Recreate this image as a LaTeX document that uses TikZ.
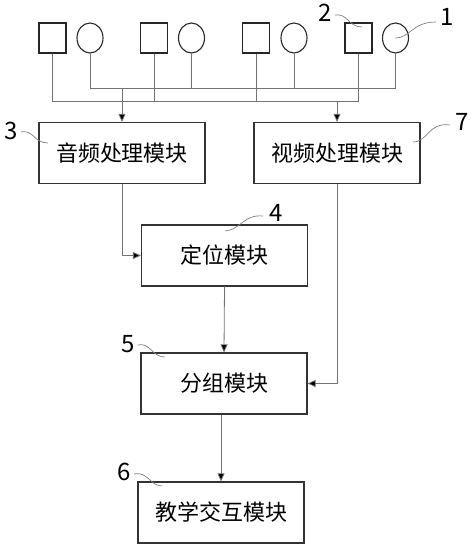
\documentclass[tikz,border=0pt]{standalone}
\usepackage{fontspec}
\setmainfont{Noto Sans CJK SC}
\usepackage{tikz}
\usetikzlibrary{shapes.geometric, arrows.meta}

\begin{document}
\begin{tikzpicture}[
                x=1pt, y=-1pt, % one unit per pixel, y downwards
                module/.style={rectangle, draw=black!80, line width=1.2pt, minimum width=166pt, minimum height=61pt, font=\fontsize{22}{24}\selectfont}, % module boxes
                cam/.style={rectangle, draw=black!85, line width=1.1pt, minimum width=27pt, minimum height=30pt, inner sep=0pt}, % cameras
                mic/.style={ellipse, draw=black!85, line width=1.1pt, minimum width=26pt, minimum height=30pt, inner sep=0pt}, % microphones
                wire/.style={draw=black!55, line width=0.8pt}, % plain connector
                arr/.style={wire, -{Triangle[length=8pt, width=7pt, fill=black]}}, % connector with arrow
                lead/.style={draw=black!50, line width=0.7pt}, % leader line of a reference number
                num/.style={font=\fontsize{24}{26}\selectfont, inner sep=0pt} % reference number
                ]
                \useasboundingbox (0,0) rectangle (474,549);
                % devices
                \node[cam] (cam1) at (52.5,38) {};
                \node[mic] (mic1) at (90,38) {};
                \node[cam] (cam2) at (154,38) {};
                \node[mic] (mic2) at (191.5,38) {};
                \node[cam] (cam3) at (256,38) {};
                \node[mic] (mic3) at (294,38) {};
                \node[cam] (cam4) at (358.5,38) {};
                \node[mic] (mic4) at (395.5,38) {};
                % modules
                \node[module] (audio) at (122,153) {音频处理模块};
                \node[module] (video) at (337,153) {视频处理模块};
                \node[module] (locate) at (224.5,255.5) {定位模块};
                \node[module] (group) at (224,383.5) {分组模块};
                \node[module] (teach) at (221,512.5) {教学交互模块};
                % buses
                \coordinate (abus) at (0,88);
                \coordinate (vbus) at (0,101);
                \draw[wire] (mic1.south) |- (mic4.south |- abus) -- (mic4.south);
                \draw[wire] (mic2.south) -- (mic2.south |- abus);
                \draw[wire] (mic3.south) -- (mic3.south |- abus);
                \draw[wire] (cam1.south) |- (cam4.south |- vbus) -- (cam4.south);
                \draw[wire] (cam2.south) -- (cam2.south |- vbus);
                \draw[wire] (cam3.south) -- (cam3.south |- vbus);
                % flow
                \draw[arr] (audio.north |- abus) -- (audio.north);
                \draw[arr] (video.north |- vbus) -- (video.north);
                \draw[arr] (audio.south) |- (locate.west);
                \draw[arr] (locate.south) -- (group.north);
                \draw[arr] (video.south) |- (group.east);
                \draw[arr] (group.south -| teach.north) -- (teach.north);
                % reference numbers
                \node[num] (n1) at (447,17) {1};
                \node[num] (n2) at (325,13) {2};
                \node[num] (n3) at (11,131) {3};
                \node[num] (n4) at (276,213) {4};
                \node[num] (n5) at (128,344) {5};
                \node[num] (n6) at (124,472) {6};
                \node[num] (n7) at (462,122) {7};
                \coordinate (p2) at (362,27);
                \coordinate (p3) at (48,143);
                \coordinate (p4) at (225,231);
                \coordinate (p5) at (165,357);
                \coordinate (p6) at (162,486);
                \coordinate (p7) at (413,142);
                \draw[lead] (n1.west) ++(-4,5) .. controls (412,22) and (410,38) .. (mic4.center);
                \draw[lead] (n2.east) ++(3,2) .. controls (348,13) and (348,27) .. (p2);
                \draw[lead] (n3.east) ++(3,1) .. controls (33,129) and (34,143) .. (p3);
                \draw[lead] (n4.west) ++(-6,3) .. controls (244,214) and (240,230) .. (p4);
                \draw[lead] (n5.east) ++(3,1) .. controls (150,342) and (152,357) .. (p5);
                \draw[lead] (n6.east) ++(3,2) .. controls (148,471) and (150,486) .. (p6);
                \draw[lead] (n7.west) ++(-5,3) .. controls (428,122) and (428,142) .. (p7);
            \end{tikzpicture}
\end{document}
